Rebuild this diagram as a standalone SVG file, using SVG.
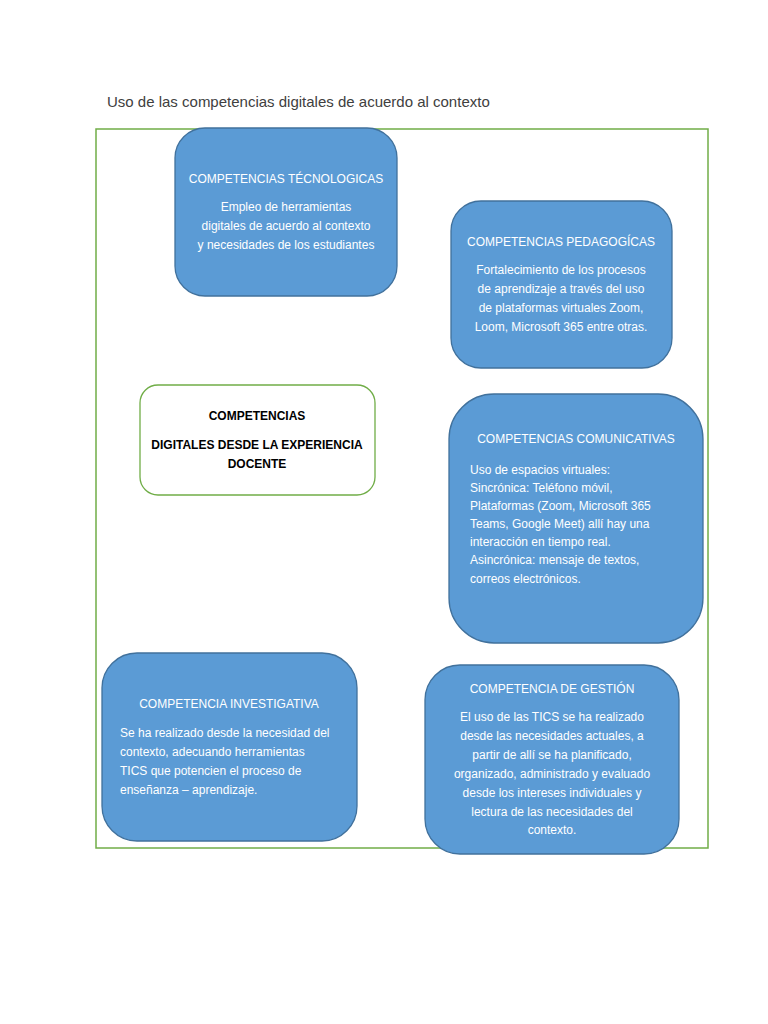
<svg xmlns="http://www.w3.org/2000/svg" width="768" height="1024" viewBox="0 0 768 1024">
<style>
.b{fill:#5b9bd5;stroke:#41719c;stroke-width:1.3}
.t{font-family:"Liberation Sans Narrow","Liberation Sans",sans-serif;font-size:12px;fill:#fff}
.c{text-anchor:middle}
.k{font-family:"Liberation Sans Narrow","Liberation Sans",sans-serif;font-size:12px;fill:#000;font-weight:bold;text-anchor:middle}
</style>
<rect width="768" height="1024" fill="#fff"/>
<text x="107" y="107" font-family="Liberation Sans,sans-serif" font-size="15" fill="#404040">Uso de las competencias digitales de acuerdo al contexto</text>
<g id="connectors"></g>
<rect x="96" y="129" width="612" height="719" fill="none" stroke="#70ad47" stroke-width="1.5"/>
<g id="tec"><rect class="b" x="175" y="128" width="222" height="168" rx="30"/>
<text class="t c" x="286" y="183">COMPETENCIAS TÉCNOLOGICAS</text>
<text class="t c" x="286" y="211">Empleo de herramientas</text>
<text class="t c" x="286" y="230">digitales de acuerdo al contexto</text>
<text class="t c" x="286" y="249">y necesidades de los estudiantes</text></g>
<g id="ped"><rect class="b" x="451" y="201" width="221" height="167" rx="30"/>
<text class="t c" x="561" y="246">COMPETENCIAS PEDAGOGÍCAS</text>
<text class="t c" x="561" y="274">Fortalecimiento de los procesos</text>
<text class="t c" x="561" y="293">de aprendizaje a través del uso</text>
<text class="t c" x="561" y="312">de plataformas virtuales Zoom,</text>
<text class="t c" x="561" y="331">Loom, Microsoft 365 entre otras.</text></g>
<g id="centro"><rect x="140" y="385" width="235" height="110" rx="18" fill="#fff" stroke="#70ad47" stroke-width="1.3"/>
<text class="k" x="257" y="420">COMPETENCIAS</text>
<text class="k" x="257" y="449">DIGITALES DESDE LA EXPERIENCIA</text>
<text class="k" x="257" y="468">DOCENTE</text></g>
<g id="com"><rect class="b" x="449" y="394" width="254" height="249" rx="45"/>
<text class="t c" x="576" y="443">COMPETENCIAS COMUNICATIVAS</text>
<text class="t" x="470" y="474">Uso de espacios virtuales:</text>
<text class="t" x="470" y="492">Sincrónica: Teléfono móvil,</text>
<text class="t" x="470" y="510">Plataformas (Zoom, Microsoft 365</text>
<text class="t" x="470" y="528">Teams, Google Meet) allí hay una</text>
<text class="t" x="470" y="546">interacción en tiempo real.</text>
<text class="t" x="470" y="564">Asincrónica: mensaje de textos,</text>
<text class="t" x="470" y="583">correos electrónicos.</text></g>
<g id="inv"><rect class="b" x="102" y="653" width="255" height="188" rx="35"/>
<text class="t c" x="229" y="708">COMPETENCIA INVESTIGATIVA</text>
<text class="t" x="120" y="737">Se ha realizado desde la necesidad del</text>
<text class="t" x="120" y="756">contexto, adecuando herramientas</text>
<text class="t" x="120" y="775">TICS que potencien el proceso de</text>
<text class="t" x="120" y="794">enseñanza – aprendizaje.</text></g>
<g id="ges"><rect class="b" x="425" y="665" width="254" height="189" rx="35"/>
<text class="t c" x="552" y="693">COMPETENCIA DE GESTIÓN</text>
<text class="t c" x="552" y="721">El uso de las TICS se ha realizado</text>
<text class="t c" x="552" y="740">desde las necesidades actuales, a</text>
<text class="t c" x="552" y="759">partir de allí se ha planificado,</text>
<text class="t c" x="552" y="778">organizado, administrado y evaluado</text>
<text class="t c" x="552" y="797">desde los intereses individuales y</text>
<text class="t c" x="552" y="816">lectura de las necesidades del</text>
<text class="t c" x="552" y="834">contexto.</text></g>
</svg>
